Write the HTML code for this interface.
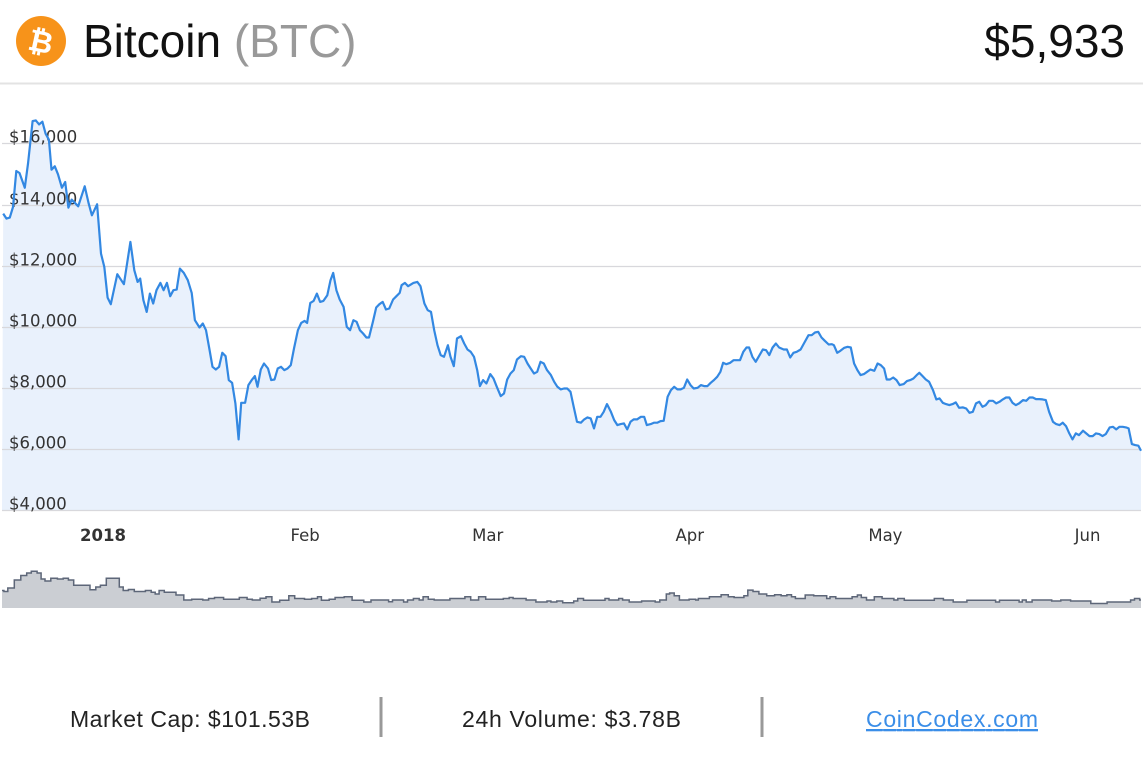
<!DOCTYPE html>
<html><head><meta charset="utf-8"><style>
html,body{margin:0;padding:0;background:#fff;width:1143px;height:768px;overflow:hidden;}
svg{display:block;}
</style></head><body>
<svg id="root" width="1143" height="768" viewBox="0 0 1143 768" xmlns="http://www.w3.org/2000/svg">
<g>
<circle cx="41" cy="41" r="25" fill="#f7931a"/>
<text x="41" y="52" text-anchor="middle" font-family="Liberation Sans, sans-serif" font-weight="bold" font-size="30" fill="#fff" transform="rotate(12 41 41)">₿</text>
<text x="83" y="57" font-family="Liberation Sans, sans-serif" font-size="46" fill="#111">Bitcoin <tspan fill="#999">(BTC)</tspan></text>
<text x="1125" y="57" text-anchor="end" font-family="Liberation Sans, sans-serif" font-size="46" fill="#111">$5,933</text>
<line x1="0" y1="83.5" x2="1143" y2="83.5" stroke="#e3e3e3" stroke-width="2"/>
</g>
<g id="chart"></g>
<g id="vol"></g>
<g font-family="Liberation Sans, sans-serif" font-size="23">
<text x="70" y="727" textLength="240" fill="#222">Market Cap: $101.53B</text>
<line x1="381" y1="697" x2="381" y2="737" stroke="#999" stroke-width="3"/>
<text x="462" y="727" textLength="219" fill="#222">24h Volume: $3.78B</text>
<line x1="762" y1="697" x2="762" y2="737" stroke="#999" stroke-width="3"/>
<text x="866" y="727" textLength="172" fill="#3b8ee8" text-decoration="underline">CoinCodex.com</text>
<line x1="866" y1="730" x2="1038" y2="730" stroke="#3b8ee8" stroke-width="1.5"/>
</g>
</svg>
<script>
// price series: day offsets from 2018-01-01 and USD prices
const priceDays = [-15.3,-14.8,-14.3,-13.8,-13.3,-12.8,-12.0,-11.5,-10.8,-10.3,-9.8,-9.3,-8.8,-8.3,-7.9,-7.4,-6.9,-6.3,-5.8,-5.3,-4.8,-3.8,-2.8,-2.2,-1.7,-0.9,-0.3,0.2,0.7,1.2,2.2,3.2,4.2,4.8,5.3,5.7,6.2,6.7,7.2,7.7,8.2,8.8,9.3,9.8,10.3,10.8,11.3,11.8,12.4,13.0,13.6,14.1,14.8,15.3,15.8,16.3,16.8,17.3,17.8,18.3,18.8,19.3,19.8,20.3,20.8,21.2,21.8,22.3,22.8,23.3,23.7,24.2,24.7,25.3,25.8,26.3,26.8,27.3,27.8,28.3,28.8,29.3,29.9,30.4,30.9,31.3,31.8,32.3,32.8,33.3,33.8,34.4,34.9,35.3,35.8,36.3,36.9,37.4,37.9,38.4,38.9,39.4,39.9,40.4,40.8,41.4,41.9,42.4,42.9,43.4,43.9,44.5,45.0,45.5,45.8,46.3,46.8,47.6,48.2,48.7,49.3,49.8,50.3,50.8,51.3,51.8,52.3,52.9,53.3,53.8,54.3,54.9,55.4,55.9,56.4,56.9,57.4,57.8,58.3,58.8,59.4,59.9,60.4,61.0,61.5,62.0,62.5,63.0,63.5,64.1,64.6,65.1,65.6,66.1,66.6,67.1,67.6,68.1,68.7,69.2,69.7,70.2,70.7,71.2,71.7,72.2,72.7,73.3,73.8,74.3,74.8,75.3,75.8,76.3,76.8,77.3,77.9,78.4,78.9,79.4,79.9,80.4,80.9,81.4,81.9,82.5,83.0,83.4,84.0,84.5,85.0,85.5,86.0,86.6,87.1,87.6,88.1,88.6,89.1,89.6,90.1,90.6,91.2,91.7,92.2,92.7,93.2,93.7,94.2,94.7,95.1,95.6,96.2,96.7,97.2,97.7,98.2,98.7,99.1,99.6,100.1,100.7,101.2,101.7,102.2,102.7,103.2,103.7,104.4,104.9,105.4,105.9,106.4,107.0,107.5,108.2,108.7,109.2,109.7,110.2,110.7,111.3,111.8,112.1,112.6,113.1,113.7,114.2,114.7,115.2,115.7,116.2,116.7,117.2,117.7,118.3,118.8,119.3,119.8,120.2,120.7,121.2,121.7,122.2,122.8,123.3,123.8,124.3,124.8,125.2,125.7,126.2,126.7,127.3,127.8,128.3,128.8,129.3,129.8,130.3,130.8,131.3,131.9,132.4,132.9,133.4,133.9,134.4,134.9,135.4,135.9,136.5,137.0,137.5,138.0,138.5,139.0,139.5,140.0,140.5,141.1,141.6,142.1,142.6,143.1,143.6,144.1,144.6,145.1,145.7,146.2,146.7,147.2,147.7,148.2,148.7,149.2,149.7,150.3,150.8,151.3,151.8,152.3,152.8,153.3,153.8,154.4,154.9,155.4,155.9,156.4,156.9,157.3,157.8,158.3,158.8,159.2];
const priceValues = [13701,13537,13570,13919,15096,15031,14551,15336,16731,16753,16622,16709,16317,16121,15140,15249,14987,14551,14737,13897,14159,13941,14595,14028,13646,14006,12393,11957,10954,10736,11717,11390,12775,11848,11466,11576,10867,10486,11085,10758,11194,11434,11194,11434,10998,11194,11216,11902,11761,11521,11107,10213,9973,10104,9886,9287,8687,8600,8687,9145,9036,8251,8164,7488,6311,7510,7510,8088,8251,8382,8033,8600,8796,8632,8251,8273,8632,8687,8578,8632,8742,9287,9886,10126,10191,10126,10780,10845,11085,10813,10845,11031,11521,11761,11194,10889,10649,9995,9886,10213,10159,9886,9777,9646,9646,10159,10627,10736,10813,10562,10595,10889,10998,11107,11358,11434,11325,11434,11467,11325,10758,10540,10486,9886,9396,9069,9014,9396,9014,8709,9614,9690,9450,9254,9178,9014,8578,8055,8251,8142,8447,8306,8033,7728,7815,8273,8469,8578,8927,9036,9014,8796,8632,8469,8524,8851,8796,8578,8415,8197,8033,7946,7978,7978,7870,7379,6888,6856,6965,7030,6998,6671,7052,7052,7216,7466,7216,6943,6779,6812,6834,6638,6888,6965,6965,7052,7052,6779,6812,6856,6856,6910,6921,7706,7924,8033,7946,7946,8000,8273,8088,7978,8000,8088,8055,8055,8164,8251,8360,8524,8818,8774,8818,8905,8905,8905,9178,9319,9319,9014,8851,9069,9254,9232,9069,9319,9450,9319,9254,9254,8992,9145,9178,9254,9450,9723,9723,9810,9832,9646,9537,9417,9428,9395,9145,9210,9308,9341,9319,8796,8578,8415,8447,8524,8600,8556,8796,8742,8632,8273,8273,8338,8251,8088,8120,8218,8251,8306,8415,8491,8382,8273,8197,7924,7619,7652,7510,7466,7433,7466,7521,7346,7357,7324,7183,7216,7488,7543,7379,7433,7575,7575,7488,7543,7619,7684,7684,7510,7433,7488,7597,7575,7684,7684,7630,7630,7619,7597,7216,6888,6812,6779,6856,6747,6507,6311,6507,6453,6595,6507,6420,6420,6507,6485,6420,6485,6703,6725,6638,6725,6725,6703,6671,6158,6126,6104,5940];
// volume series (relative units), step starts in day offsets
const volumeDays = [-15.8,-15.2,-14.6,-13.6,-12.6,-11.7,-11.0,-10.1,-9.5,-8.9,-8.0,-7.0,-6.1,-5.3,-4.5,-2.0,-1.1,-0.4,0.5,2.5,3.1,3.9,4.8,6.5,7.4,8.0,8.6,9.4,10.3,11.2,12.4,13.6,15.3,16.2,17.1,18.5,20.9,22.1,22.9,24.1,25.0,25.9,27.1,28.5,29.4,30.9,32.0,32.9,33.5,34.7,35.6,37.0,38.2,40.0,41.1,43.8,44.4,46.1,46.7,47.6,48.5,49.1,49.9,50.8,53.2,55.5,56.4,57.6,58.7,61.4,62.3,62.9,64.9,66.4,68.1,68.7,69.6,70.5,72.2,72.8,73.7,77.0,77.6,79.1,79.7,80.7,82.6,84.7,85.4,86.4,86.9,87.6,88.4,89.9,90.9,91.3,93.0,94.8,95.9,96.8,98.3,98.9,99.7,100.6,101.8,103.0,104.0,104.9,105.6,106.2,107.7,109.0,111.0,111.5,112.4,114.9,115.7,116.3,117.1,118.3,119.5,121.3,121.9,122.9,127.5,128.9,130.4,132.5,136.9,137.5,140.5,141.0,141.6,142.5,145.5,146.9,148.4,150.2,151.5,154.0,157.6,158.2,159.0];
const volumeValues = [50,47,57,80,93,100,105,100,83,77,85,83,85,80,65,52,60,65,85,60,50,53,47,50,45,40,50,45,45,37,23,25,23,27,30,25,30,25,23,28,32,17,22,35,27,25,27,32,22,25,30,32,22,17,23,18,23,17,23,27,23,32,25,23,27,32,23,32,25,27,30,27,23,17,20,17,20,15,20,27,22,27,23,27,23,17,20,17,23,40,43,35,23,25,23,27,32,38,32,30,35,51,47,40,35,38,35,38,32,27,37,35,27,32,27,32,37,30,23,32,27,23,27,22,27,23,17,22,17,22,17,23,17,23,20,23,20,20,13,17,23,27,23];
const yTicks = [4000,6000,8000,10000,12000,14000,16000];
const yTickLabels = ["$4,000","$6,000","$8,000","$10,000","$12,000","$14,000","$16,000"];
const xTickDays = [0,31,59,90,120,151];
const xTickLabels = ["2018","Feb","Mar","Apr","May","Jun"];

const NS = "http://www.w3.org/2000/svg";
const X0 = 103, PXDAY = 6.52;
const xScale = d => X0 + d * PXDAY;
const yScale = v => 510 - (v - 4000) * 0.03055;
const volBase = 608, volK = 0.35;
const vScale = v => volBase - v * volK;
const LEFT = 2, RIGHT = 1141;

function mk(tag, attrs, parent) {
  const el = document.createElementNS(NS, tag);
  for (const k in attrs) el.setAttribute(k, attrs[k]);
  parent.appendChild(el);
  return el;
}
const chart = document.getElementById('chart');

// area fill
let pts = priceDays.map((d, i) => xScale(d).toFixed(1) + ',' + yScale(priceValues[i]).toFixed(1));
const area = mk('polygon', {points: LEFT + ',510 ' + pts.join(' ') + ' ' + xScale(priceDays[priceDays.length-1]).toFixed(1) + ',510', fill: '#e9f1fc'}, chart);



// grid + y labels
yTicks.forEach((t, i) => {
  const y = Math.round(yScale(t)) + 0.5;
  const g = mk('line', {x1: LEFT, x2: RIGHT, y1: y, y2: y, stroke: '#d8d8dc', 'stroke-width': 1.3}, chart);
  
  
  const tx = mk('text', {x: 9, y: y - 1, 'font-family': 'DejaVu Sans, Liberation Sans, sans-serif', 'font-size': 16.5, fill: '#333'}, chart);
  tx.textContent = yTickLabels[i];
  
  
});

// price line
const line = mk('polyline', {points: pts.join(' '), fill: 'none', stroke: '#3388e2', 'stroke-width': 2.2, 'stroke-linejoin': 'round'}, chart);



// x labels
xTickDays.forEach((d, i) => {
  const tx = mk('text', {x: xScale(d), y: 541, 'text-anchor': 'middle', 'font-family': 'DejaVu Sans, Liberation Sans, sans-serif', 'font-size': 16.5, fill: '#333', 'font-weight': i === 0 ? 'bold' : 'normal'}, chart);
  tx.textContent = xTickLabels[i];
  
  
});

// volume step area
const vol = document.getElementById('vol');
let vp = [];
volumeDays.forEach((d, i) => {
  const x1 = Math.max(LEFT, xScale(d));
  const x2 = i < volumeDays.length - 1 ? xScale(volumeDays[i+1]) : RIGHT;
  const y = vScale(volumeValues[i]).toFixed(1);
  vp.push(x1.toFixed(1) + ',' + y, Math.min(RIGHT, x2).toFixed(1) + ',' + y);
});
const va = mk('polygon', {points: LEFT + ',' + volBase + ' ' + vp.join(' ') + ' ' + RIGHT + ',' + volBase, fill: '#cbced3'}, vol);


const vl = mk('polyline', {points: vp.join(' '), fill: 'none', stroke: '#5d6678', 'stroke-width': 1.5}, vol);


</script>
</body></html>
